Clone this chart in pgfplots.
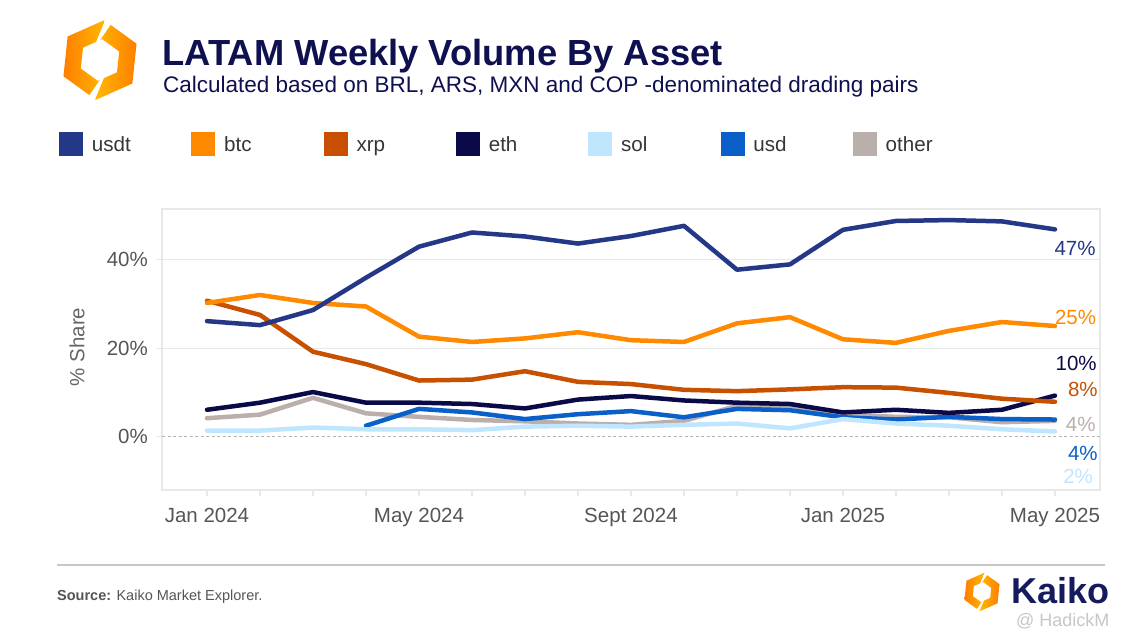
\documentclass[border=0pt]{standalone}
\usepackage{fontspec}
\setmainfont{Liberation Sans}
\usepackage{pgfplots}
\usepackage{pgfplotstable}
\pgfplotsset{compat=1.18}
\usetikzlibrary{calc}

\definecolor{cusdt}{HTML}{253787}
\definecolor{cbtc}{HTML}{FF8A00}
\definecolor{cxrp}{HTML}{C75100}
\definecolor{ceth}{HTML}{0A0A48}
\definecolor{csol}{HTML}{BFE6FF}
\definecolor{cusd}{HTML}{0A60C8}
\definecolor{cother}{HTML}{BBAFAB}
\definecolor{navy}{HTML}{0E1050}
\definecolor{tickc}{HTML}{555555}
\definecolor{framec}{HTML}{E8E8E8}
\definecolor{dashc}{HTML}{B4B4B4}
\definecolor{legc}{HTML}{363636}
\definecolor{lodark}{HTML}{FF7E00}
\definecolor{lolight}{HTML}{FFB800}
\definecolor{kainavy}{HTML}{161B5E}

\newcommand{\fs}[1]{\fontsize{#1}{#1}\selectfont}
\def\Ro{40}
\def\Ri{21}
\newcommand{\piece}[2]{%
  \path[#2] ($(90+#1:\Ro)!0.02!(30+#1:\Ro)$) -- (90+#1:\Ro) -- (150+#1:\Ro) -- (210+#1:\Ro)
    -- ($(210+#1:\Ro)!0.80!(270+#1:\Ro)$) -- ($(270+#1:\Ri)!0.10!(330+#1:\Ri)$)
    -- (270+#1:\Ri) -- (210+#1:\Ri) -- (150+#1:\Ri) -- ($(90+#1:\Ri)!0.32!(150+#1:\Ri)$) -- cycle;}

\pgfplotstableread{
x usdt btc xrp eth sol usd other
0 26.1 30.2 30.7 6.1 1.4 nan 4.2
1 25.2 32.0 27.5 7.7 1.4 nan 5.0
2 28.6 30.2 19.2 10.1 2.1 nan 8.8
3 35.9 29.4 16.4 7.7 1.7 2.5 5.3
4 42.9 22.6 12.7 7.7 1.7 6.3 4.5
5 46.1 21.4 12.9 7.4 1.5 5.5 3.8
6 45.2 22.2 14.8 6.4 2.3 4.0 3.5
7 43.6 23.6 12.4 8.4 2.5 5.1 3.0
8 45.3 21.8 11.9 9.2 2.3 5.8 2.7
9 47.6 21.4 10.6 8.2 2.7 4.4 3.6
10 37.7 25.6 10.3 7.7 3.0 6.3 7.0
11 38.9 27.0 10.7 7.4 1.9 6.0 7.0
12 46.7 22.0 11.2 5.5 4.0 4.4 5.0
13 48.7 21.2 11.1 6.1 3.0 3.9 4.5
14 48.9 23.9 9.9 5.4 2.5 4.5 4.4
15 48.6 25.9 8.6 6.1 1.7 4.0 3.3
16 46.8 25.0 7.9 9.3 1.2 3.9 3.6
}\datatable

\begin{document}
\begin{tikzpicture}[x=1pt,y=1pt]
\useasboundingbox (0,0) rectangle (1142,632);
\fill[white] (0,0) rectangle (1142,632);

% logo
\begin{scope}[shift={(100,572)}, rotate=-6]
  \piece{0}{left color=lodark, right color=lolight}
  \piece{180}{left color=lolight, right color=lodark}
\end{scope}

% title
\node[anchor=base west, inner sep=0pt, text=navy, font=\fs{36.3}\bfseries] at (162.5,566.3) {LATAM Weekly Volume By Asset};
\node[anchor=base west, inner sep=0pt, text=navy, font=\fs{22.5}] at (163,539) {Calculated based on BRL, ARS, MXN and COP -denominated drading pairs};

% legend
\foreach \n/\c [count=\i from 0] in {usdt/cusdt,btc/cbtc,xrp/cxrp,eth/ceth,sol/csol,usd/cusd,other/cother}{
  \fill[\c] ({59+132.3*\i},476) rectangle ++(24,24);
  \node[anchor=base west, inner sep=0pt, text=legc, font=\fs{20.6}] at ({91.7+132.3*\i},480.3) {\n};
}

% y label
\node[rotate=90, text=tickc!90, font=\fs{20.5}, inner sep=0pt] at (77,285) {\% Share};

\begin{axis}[
  at={(162pt,142pt)}, anchor=south west,
  scale only axis, width=938pt, height=281pt,
  xmin=-0.849, xmax=16.85, ymin=-12.0, ymax=51.4,
  clip=false,
  axis line style={draw=framec, line width=1.3pt},
  xtick={0,...,16},
  xticklabels={Jan 2024,,,,May 2024,,,,Sept 2024,,,,Jan 2025,,,,May 2025},
  ytick={20,40}, yticklabels={20\%,40\%},
  extra y ticks={0}, extra y tick labels={0\%},
  ymajorgrids, grid style={draw=framec, line width=1.3pt},
  extra y tick style={grid style={draw=dashc, line width=1pt, dash pattern=on 3pt off 2.5pt}},
  xtick pos=lower, ytick pos=left, tick align=outside,
  major tick length=6pt,
  tick style={draw=framec, line width=1.3pt},
  tick label style={font=\fs{20.5}, text=tickc},
  yticklabel style={anchor=east, inner sep=0pt, xshift=-8pt},
  xticklabel style={anchor=north, inner sep=0pt, yshift=-12pt},
  every axis plot/.append style={line width=4.5pt, line join=round, line cap=round},
  no markers,
]
\addplot[cother] table[x=x,y=other]{\datatable};
\addplot[cusd] table[x=x,y=usd]{\datatable};
\addplot[csol] table[x=x,y=sol]{\datatable};
\addplot[ceth] table[x=x,y=eth]{\datatable};
\addplot[cxrp] table[x=x,y=xrp]{\datatable};
\addplot[cbtc] table[x=x,y=btc]{\datatable};
\addplot[cusdt] table[x=x,y=usdt]{\datatable};

\node[anchor=base east, inner sep=0pt, text=cusdt, font=\fs{20.5}] at (axis cs:16.77,40.86) {47\%};
\node[anchor=base east, inner sep=0pt, text=cbtc, font=\fs{20.5}] at (axis cs:16.78,25.44) {25\%};
\node[anchor=base east, inner sep=0pt, text=ceth, font=\fs{20.5}] at (axis cs:16.79,15.06) {10\%};
\node[anchor=base east, inner sep=0pt, text=cxrp, font=\fs{20.5}] at (axis cs:16.81,9.19) {8\%};
\node[anchor=base east, inner sep=0pt, text=cother, font=\fs{20.5}] at (axis cs:16.77,1.13) {4\%};
\node[anchor=base east, inner sep=0pt, text=cusd, font=\fs{20.5}] at (axis cs:16.81,-5.42) {4\%};
\node[anchor=base east, inner sep=0pt, text=csol, font=\fs{20.5}] at (axis cs:16.72,-10.45) {2\%};
\end{axis}

% footer
\draw[draw=black!22, line width=1.5pt] (57,67) -- (1105,67);
\node[anchor=base west, inner sep=0pt, text=tickc, font=\fs{14.5}] at (57,32) {\textbf{Source:} Kaiko Market Explorer.};

% kaiko logo
\begin{scope}[shift={(982,40)}, scale=0.48, rotate=-6]
  \piece{0}{left color=lodark, right color=lolight}
  \piece{180}{left color=lolight, right color=lodark}
\end{scope}
\node[anchor=base west, inner sep=0pt, text=kainavy, font=\fs{36}\bfseries] at (1011,29) {Kaiko};
\node[anchor=base west, inner sep=0pt, text=black!22, font=\fs{18}] at (1016,6) {@ HadickM};
\end{tikzpicture}
\end{document}
